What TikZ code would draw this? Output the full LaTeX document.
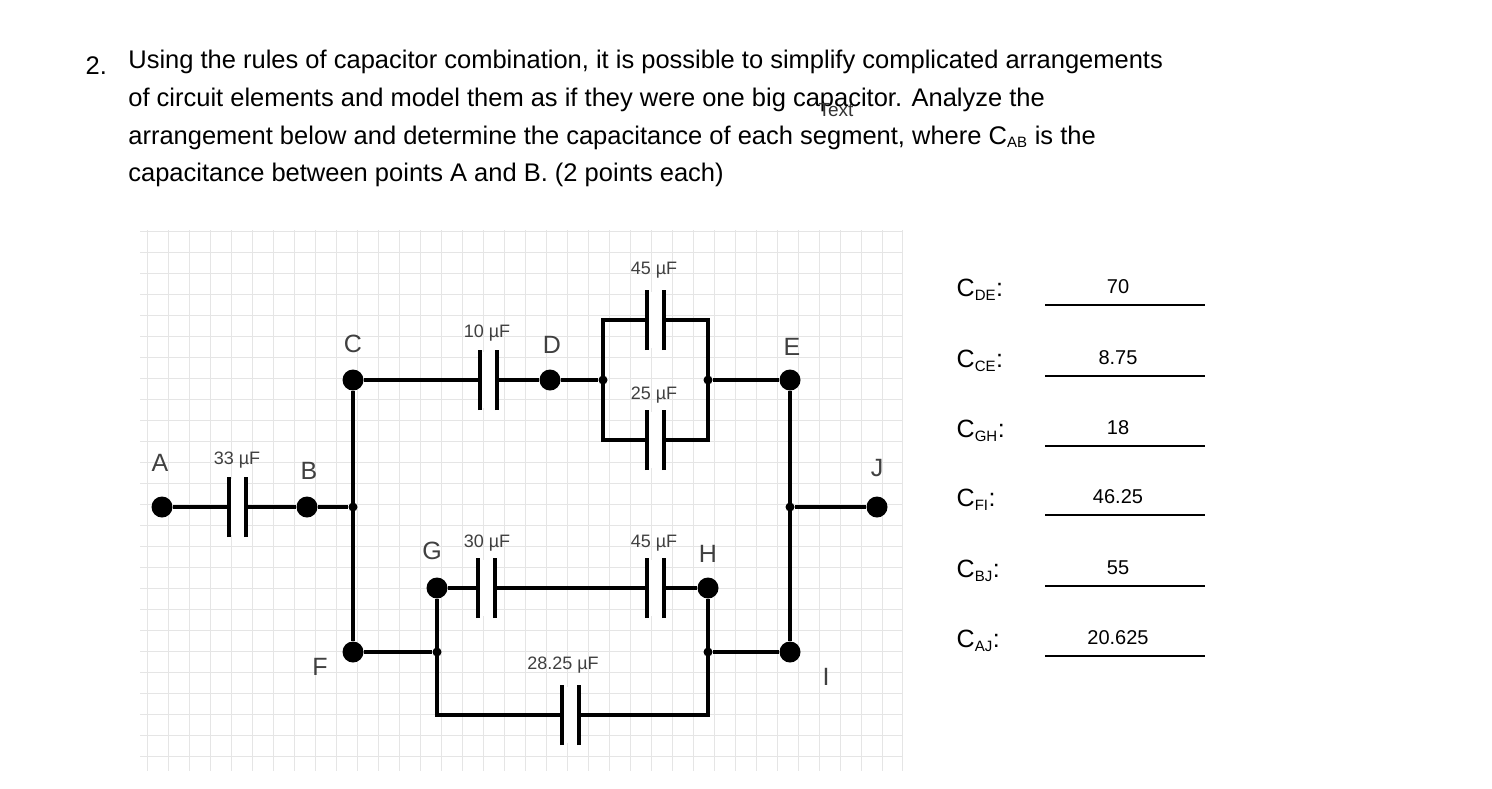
\documentclass[tikz,border=0pt]{standalone}
\usepackage{fontspec}
\setmainfont{Liberation Sans}
\tikzset{every picture/.style={line width=0.75pt}}
\tikzset{
  wire/.style={line width=4pt},
  term/.style={circle,fill=black,inner sep=0pt,minimum size=21pt},
  jn/.style={circle,fill=black,inner sep=0pt,minimum size=9pt},
  lbl/.style={text=black!75,font=\fontsize{25}{28}\selectfont},
  val/.style={text=black!75,font=\fontsize{18}{21}\selectfont},
  ans/.style={font=\fontsize{20}{24}\selectfont},
  pics/capv/.style={code={
    \fill[white] (-7,-28) rectangle (7,28);
    \draw[line width=3.5pt] (-8.5,-30) -- (-8.5,30) (8.5,-30) -- (8.5,30);}}
}
\begin{document}
\begin{tikzpicture}[x=1pt,y=1pt,yscale=-1,xscale=1]
\useasboundingbox (0,0) rectangle (1492,788);
\fill[white] (0,0) rectangle (1492,788);

%grid
\draw[black!10,line width=1pt] (140,230) grid[step=21] (903,771);

%Text Node
\node[anchor=west,font=\fontsize{25.5}{30}\selectfont] (num) at (82,66) {2.};
\node[anchor=north west,align=left,inner sep=0pt,font=\fontsize{25.5}{37.7}\selectfont] (q) at (128,50)
  {Using the rules of capacitor combination, it is possible to simplify complicated arrangements\\
   of circuit elements and model them as if they were one big capacitor. Analyze the\\
   arrangement below and determine the capacitance of each segment, where C\textsubscript{\fontsize{15}{15}\selectfont AB} is the\\
   capacitance between points A and B. (2 points each)};
\node[text=black!80,font=\fontsize{19}{20}\selectfont] (tx) at (836,110) {Text};

%points
\node[term] (A) at (162,507) {};
\node[term] (B) at (307,507) {};
\node[term] (C) at (353,380) {};
\node[term] (D) at (550,380) {};
\node[term] (E) at (790,380) {};
\node[term] (F) at (353,652) {};
\node[term] (G) at (437,588) {};
\node[term] (H) at (708,588) {};
\node[term] (I) at (790,652) {};
\node[term] (J) at (877,507) {};
\node[jn] (bj) at (353,507) {};
\node[jn] (dl) at (603,380) {};
\node[jn] (dr) at (708,380) {};
\node[jn] (ej) at (790,507) {};
\node[jn] (fj) at (437,652) {};
\node[jn] (ij) at (708,652) {};
\coordinate (tl) at (603,320);
\coordinate (tr) at (708,320);
\coordinate (bl) at (603,440);
\coordinate (br) at (708,440);
\coordinate (gl) at (437,715);
\coordinate (hl) at (708,715);

%wires
\draw[wire] (A) -- (B) -- (bj);
\draw[wire] (C) -- (D) -- (dl);
\draw[wire] (dl) -- (tl) -- (tr) -- (br) -- (bl) -- cycle;
\draw[wire] (dr) -- (E) -- (I);
\draw[wire] (ej) -- (J);
\draw[wire] (C) -- (F) -- (fj);
\draw[wire] (G) -- (H);
\draw[wire] (G) -- (gl) -- (hl) -- (H);
\draw[wire] (ij) -- (I);

%capacitors
\pic at (237.5,507) {capv};
\pic at (488.5,380) {capv};
\pic at (655.5,320) {capv};
\pic at (655.5,440) {capv};
\pic at (486.5,588) {capv};
\pic at (655.5,588) {capv};
\pic at (570.5,715) {capv};

%labels
\node[lbl] at (160,463) {A};
\node[lbl] at (309,471) {B};
\node[lbl] at (353,344) {C};
\node[lbl] at (552,345) {D};
\node[lbl] at (792,347) {E};
\node[lbl] at (320,667) {F};
\node[lbl] at (432,551) {G};
\node[lbl] at (708,554) {H};
\node[lbl] at (826,677) {I};
\node[lbl] at (877,468) {J};
\node[val] at (237,460) {33 µF};
\node[val] at (487,333) {10 µF};
\node[val] at (654,270) {45 µF};
\node[val] at (654,395) {25 µF};
\node[val] at (487,543) {30 µF};
\node[val] at (654,543) {45 µF};
\node[val] at (563,665) {28.25 µF};

%answers
\foreach \sub/\v/\y in {DE/70/290,CE/8.75/361,GH/18/431,FI/46.25/500,BJ/55/571,AJ/20.625/641}{
  \node[anchor=west,font=\fontsize{25}{28}\selectfont] at (953,\y) {C\textsubscript{\fontsize{15}{15}\selectfont\sub}:};
  \node[ans] at (1118,\y-3) {\v};
  \draw[line width=1.2pt] (1045,\y+15) -- (1205,\y+15);
}
\end{tikzpicture}
\end{document}
